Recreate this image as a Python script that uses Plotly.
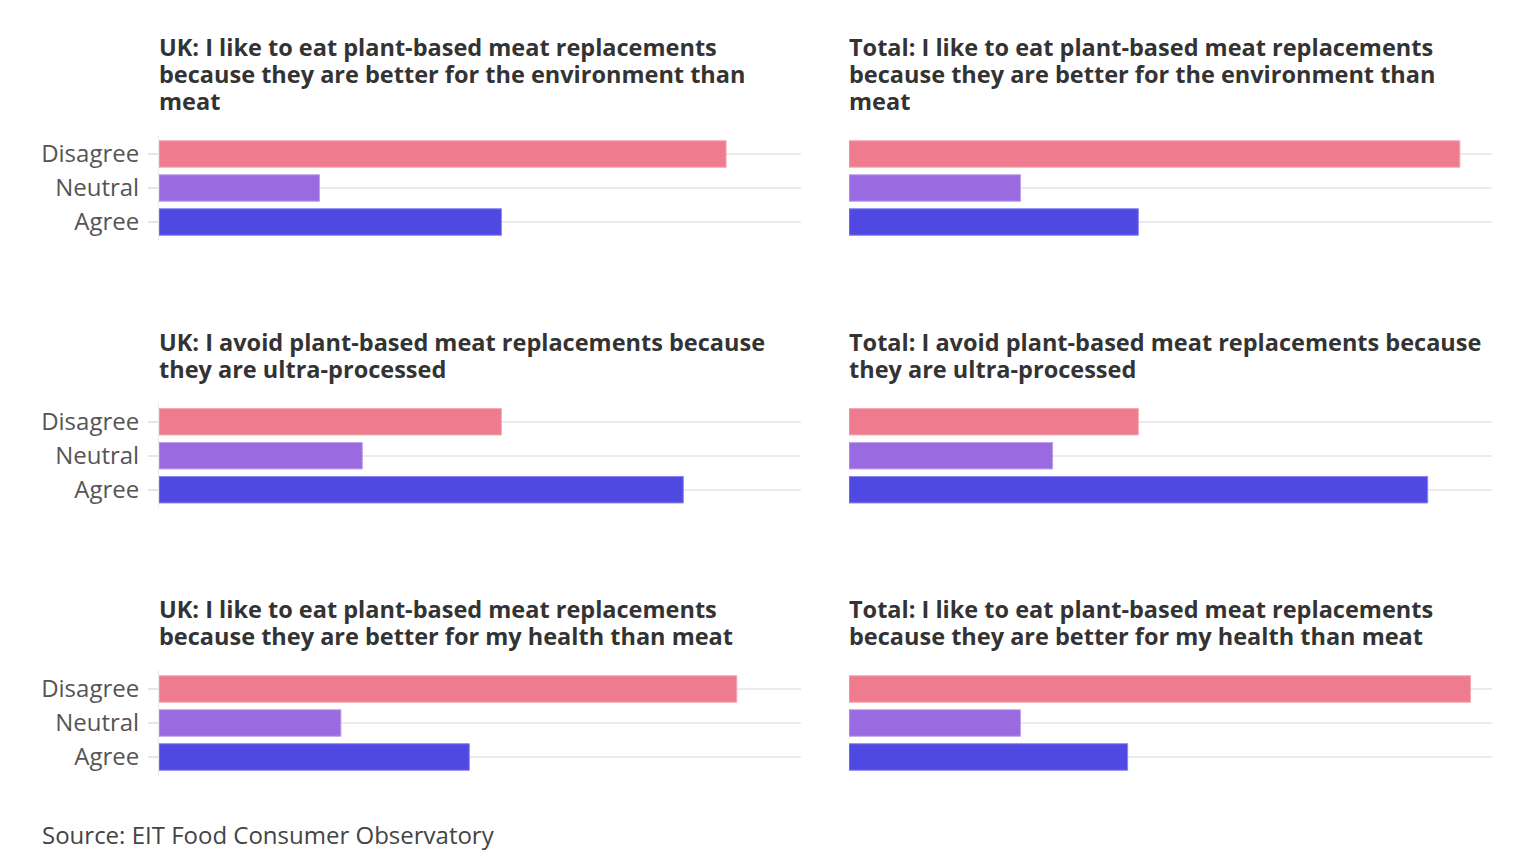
import plotly.graph_objects as go

categories = ["Disagree", "Neutral", "Agree"]
colors = ["#ef7b8e", "#9a6ae0", "#4f48e2"]
line_colors = ["#f6a9b6", "#bfa0ee", "#8a84ee"]

title_lines = [
    ["UK: I like to eat plant-based meat replacements",
     "because they are better for the environment than", "meat"],
    ["Total: I like to eat plant-based meat replacements",
     "because they are better for the environment than", "meat"],
    ["UK: I avoid plant-based meat replacements because",
     "they are ultra-processed"],
    ["Total: I avoid plant-based meat replacements because",
     "they are ultra-processed"],
    ["UK: I like to eat plant-based meat replacements",
     "because they are better for my health than meat"],
    ["Total: I like to eat plant-based meat replacements",
     "because they are better for my health than meat"],
]

uk_env = [53, 15, 32]
total_env = [57, 16, 27]
uk_ultra = [32, 19, 49]
total_ultra = [27, 19, 54]
uk_health = [54, 17, 29]
total_health = [58, 16, 26]

series = [uk_env, total_env, uk_ultra, total_ultra, uk_health, total_health]

source = "Source: EIT Food Consumer Observatory"

# page body has an 8px margin; figure is placed at (8, 8)
OFF = 8
W, H = 1520, 851
x_px = [(159, 801), (849, 1492)]
x_domains = [[(a - OFF) / W, (b - OFF) / W] for a, b in x_px]
row_px = [(135.3, 240.7), (403.0, 508.4), (670.3, 775.7)]
y_domains = [[(H - (b - OFF)) / H, (H - (t - OFF)) / H] for t, b in row_px]
title_center_px = [47, 342, 609]
LINE_STEP = 27
TITLE_SIZE = 23.5

fig = go.Figure()
layout = {}
annotations = []
for i, vals in enumerate(series):
    r, c = divmod(i, 2)
    n = i + 1
    xa = "x" if n == 1 else f"x{n}"
    ya = "y" if n == 1 else f"y{n}"
    fig.add_trace(go.Bar(
        x=vals, y=categories, orientation="h",
        marker=dict(color=colors, line=dict(color=line_colors, width=1)),
        width=0.78, xaxis=xa, yaxis=ya, showlegend=False,
        hovertemplate="%{y}: %{x}%<extra></extra>",
    ))
    layout[f"xaxis{'' if n == 1 else n}"] = dict(
        domain=x_domains[c], range=[0, 60], showticklabels=False,
        showgrid=False, zeroline=False, showline=False, anchor=ya, fixedrange=True,
    )
    left = c == 0
    layout[f"yaxis{'' if n == 1 else n}"] = dict(
        domain=y_domains[r], range=[2.55, -0.55], type="category",
        categoryorder="array", categoryarray=categories,
        showgrid=True, gridcolor="#ebebeb", gridwidth=2,
        showline=left, linecolor="#ebebeb", linewidth=1,
        ticks="outside" if left else "", ticklen=10, tickcolor="#e6e6e6", tickwidth=2,
        showticklabels=left, ticklabelstandoff=4,
        tickfont=dict(family="Open Sans", size=24, color="#555555"),
        zeroline=False, anchor=xa, fixedrange=True,
    )
    lines = title_lines[i]
    # line step = 1.3em of the base font; glyphs drawn at TITLE_SIZE
    text = "<br>".join(
        f"<span style='font-size:{TITLE_SIZE}px'><b>{ln}</b></span>" for ln in lines
    )
    yc = title_center_px[r] + (len(lines) - 1) * LINE_STEP / 2 - OFF
    annotations.append(dict(
        text=text, xref="paper", yref="paper",
        x=x_domains[c][0], y=(H - yc) / H,
        xanchor="left", yanchor="middle", align="left", showarrow=False,
        xshift=-2,
        font=dict(family="Open Sans", size=LINE_STEP / 1.3, color="#333333"),
    ))

annotations.append(dict(
    text=source, xref="paper", yref="paper", x=(40 - OFF) / W, y=(H - (834 - OFF)) / H,
    xanchor="left", yanchor="middle", align="left", showarrow=False,
    font=dict(family="Open Sans", size=24, color="#444444"),
))

fig.update_layout(
    width=W, height=H, margin=dict(l=0, r=0, t=0, b=0),
    paper_bgcolor="white", plot_bgcolor="white",
    annotations=annotations, bargap=0.2, **layout,
)

fig.write_html("out.html")
